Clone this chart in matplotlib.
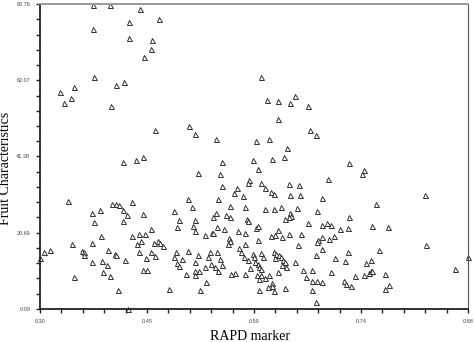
import numpy as np
import matplotlib.pyplot as plt

# RAPD marker (x) vs fruit characteristics (y)
rapd = [
    0.372, 0.395, 0.436, 0.421, 0.461, 0.372, 0.420, 0.452, 0.451, 0.441,
    0.373, 0.414, 0.403, 0.346, 0.327, 0.342, 0.333, 0.396, 0.599, 0.608,
    0.622, 0.646, 0.639, 0.663, 0.622, 0.413, 0.430, 0.439, 0.338, 0.424,
    0.398, 0.403, 0.407, 0.412, 0.381, 0.371, 0.440, 0.418, 0.373, 0.412,
    0.450, 0.434, 0.442, 0.382, 0.425, 0.437, 0.371, 0.431, 0.343, 0.313,
    0.305, 0.357, 0.359, 0.360, 0.392, 0.402, 0.403, 0.434, 0.444, 0.415,
    0.384, 0.370, 0.391, 0.440, 0.445, 0.300, 0.386, 0.395, 0.346, 0.406,
    0.419, 0.456, 0.502, 0.510, 0.539, 0.593, 0.547, 0.514, 0.544, 0.589,
    0.596, 0.583, 0.582, 0.547, 0.567, 0.563, 0.575, 0.501, 0.541, 0.506,
    0.558, 0.482, 0.578, 0.538, 0.535, 0.552, 0.557, 0.580, 0.582, 0.489,
    0.510, 0.486, 0.507, 0.540, 0.550, 0.510, 0.523, 0.533, 0.534, 0.568,
    0.578, 0.593, 0.595, 0.556, 0.557, 0.555, 0.570, 0.578, 0.455, 0.460,
    0.463, 0.467, 0.451, 0.456, 0.484, 0.482, 0.485, 0.493, 0.489, 0.501,
    0.514, 0.510, 0.498, 0.510, 0.515, 0.510, 0.524, 0.528, 0.531, 0.532,
    0.540, 0.544, 0.546, 0.537, 0.541, 0.559, 0.564, 0.572, 0.576, 0.582,
    0.589, 0.590, 0.591, 0.596, 0.585, 0.578, 0.594, 0.597, 0.525, 0.475,
    0.517, 0.597, 0.666, 0.674, 0.611, 0.635, 0.615, 0.630, 0.719, 0.739,
    0.736, 0.690, 0.599, 0.605, 0.613, 0.617, 0.638, 0.651, 0.639, 0.653,
    0.682, 0.605, 0.617, 0.627, 0.648, 0.639, 0.640, 0.637, 0.632, 0.675,
    0.663, 0.719, 0.682, 0.689, 0.695, 0.706, 0.717, 0.622, 0.613, 0.619,
    0.628, 0.637, 0.654, 0.682, 0.698, 0.692, 0.677, 0.675, 0.650, 0.682,
    0.596, 0.599, 0.602, 0.617, 0.620, 0.624, 0.627, 0.619, 0.629, 0.632,
    0.628, 0.634, 0.645, 0.623, 0.597, 0.600, 0.600, 0.605, 0.610, 0.609,
    0.615, 0.615, 0.617, 0.632, 0.674, 0.700, 0.714, 0.717, 0.657, 0.669,
    0.695, 0.660, 0.669, 0.675, 0.682, 0.669, 0.674, 0.712, 0.715, 0.721,
    0.727, 0.739, 0.746, 0.742, 0.822, 0.755, 0.750, 0.771, 0.823, 0.760,
    0.749, 0.749, 0.750, 0.768, 0.773, 0.767, 0.862, 0.880,
]
fruit = [
    82.6, 82.4, 81.3, 77.8, 78.6, 75.9, 73.6, 73.1, 70.6, 68.5,
    63.0, 61.6, 60.9, 60.3, 59.0, 57.2, 55.8, 55.1, 62.9, 56.6,
    56.4, 57.7, 56.0, 55.2, 51.6, 39.8, 40.5, 41.2, 29.4, 29.0,
    28.6, 28.6, 28.1, 26.9, 26.9, 26.1, 25.9, 25.5, 23.5, 24.0,
    21.6, 20.4, 20.3, 19.8, 19.8, 18.4, 17.8, 17.6, 17.6, 15.9,
    15.4, 15.7, 15.4, 14.7, 15.9, 14.8, 14.7, 15.4, 13.8, 13.3,
    12.9, 12.7, 11.9, 10.5, 10.7, 13.8, 10.1, 9.0, 8.8, 5.2,
    0.1, 48.7, 49.7, 47.4, 46.2, 45.5, 40.0, 36.9, 36.6, 40.4,
    37.9, 34.9, 34.1, 33.5, 32.9, 31.5, 30.6, 29.8, 29.8, 27.8,
    28.0, 26.5, 27.6, 26.1, 24.9, 25.5, 25.0, 24.4, 24.0, 24.2,
    24.2, 22.3, 22.5, 22.3, 21.8, 21.1, 20.0, 20.7, 20.5, 21.2,
    20.5, 21.9, 22.5, 19.4, 18.5, 17.6, 16.6, 17.7, 17.9, 18.5,
    18.0, 17.0, 15.6, 14.3, 15.4, 14.1, 12.6, 13.5, 11.6, 15.7,
    14.6, 12.7, 9.4, 10.3, 10.4, 9.2, 11.4, 14.2, 15.4, 12.3,
    15.5, 13.5, 11.9, 11.4, 10.4, 9.4, 9.9, 15.4, 14.2, 13.3,
    14.8, 14.0, 12.7, 12.2, 11.0, 9.4, 9.1, 8.2, 7.2, 5.4,
    5.2, 5.2, 48.6, 47.2, 46.1, 43.8, 40.6, 41.2, 39.7, 37.6,
    36.6, 35.2, 34.2, 32.9, 31.7, 31.1, 33.8, 33.6, 31.0, 31.0,
    30.0, 27.1, 27.2, 27.8, 27.5, 26.1, 25.3, 24.9, 24.5, 26.5,
    23.4, 25.0, 22.7, 23.3, 22.9, 21.6, 21.9, 21.5, 19.8, 20.1,
    19.5, 20.3, 20.3, 19.6, 19.7, 18.9, 18.6, 18.3, 17.5, 16.3,
    18.7, 15.3, 14.0, 15.6, 14.8, 14.7, 14.2, 13.9, 13.3, 12.7,
    12.0, 11.4, 12.8, 10.1, 11.5, 10.8, 9.1, 8.4, 9.1, 6.0,
    7.1, 6.3, 5.0, 5.6, 14.7, 13.8, 12.9, 15.4, 10.6, 10.5,
    10.1, 8.7, 7.6, 7.5, 7.2, 5.1, 1.9, 7.7, 6.7, 6.3,
    9.0, 9.3, 9.9, 12.4, 31.0, 28.4, 22.6, 22.3, 17.5, 15.9,
    13.2, 10.3, 10.4, 9.6, 6.4, 5.3, 10.9, 14.0,
]

x_ticks = [0.30, 0.445, 0.59, 0.735, 0.88]
x_labels = ["0.30", "0.45", "0.59", "0.74", "0.88"]
y_ticks = [0.0, 20.69, 41.38, 62.07, 82.76]
y_labels = ["0.00", "20.69", "41.38", "62.07", "82.76"]

fig = plt.figure(figsize=(4.74, 3.42), dpi=100)
ax = fig.add_axes([0.0844, 0.0965, 0.9029, 0.8918])

ax.plot(rapd, fruit, linestyle="none", marker="^", markersize=3.6,
        markerfacecolor="white", markeredgecolor="#222222",
        markeredgewidth=0.65, clip_on=False)

ax.set_xlim(0.30, 0.88)
ax.set_ylim(0, 82.76)
ax.set_xticks(x_ticks)
ax.set_xticklabels(x_labels)
ax.set_yticks(y_ticks)
ax.set_yticklabels(y_labels)
ax.set_xticks(np.linspace(0.30, 0.88, 21), minor=True)
ax.set_yticks(np.linspace(0, 82.76, 21), minor=True)

ax.tick_params(which="both", direction="out", length=3, width=1.0,
               color="#222222", labelsize=4, labelcolor="#444444", pad=4)
ax.tick_params(top=False, right=False)
for lab in ax.get_xticklabels() + ax.get_yticklabels():
    lab.set_family("Liberation Sans")

for side in ["left", "bottom"]:
    ax.spines[side].set_linewidth(1.3)
    ax.spines[side].set_color("#222222")
ax.spines["top"].set_color("#999999")
ax.spines["top"].set_linewidth(1.4)
ax.spines["right"].set_color("#555555")
ax.spines["right"].set_linewidth(0.8)

ax.set_xlabel("RAPD marker", family="Liberation Serif", fontsize=10)
ax.set_ylabel("Fruit Characteristics", family="Liberation Serif", fontsize=10)
ax.xaxis.set_label_coords(0.49, -0.068)
ax.yaxis.set_label_coords(-0.066, 0.46)

fig.savefig("out.png", dpi=100)
